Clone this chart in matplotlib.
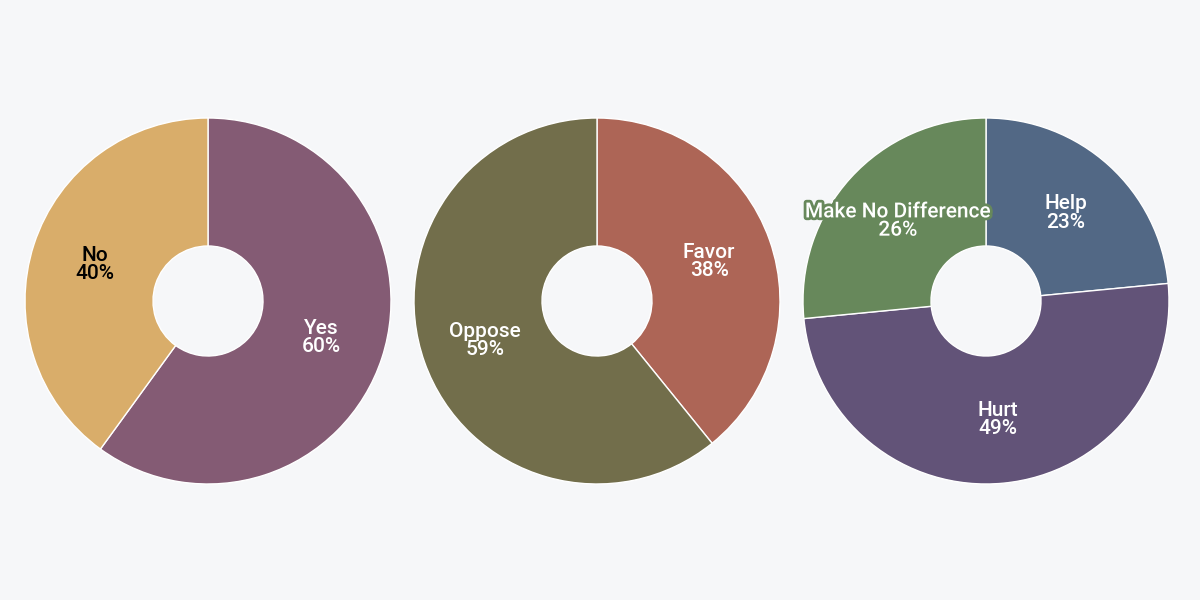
import numpy as np
import matplotlib.pyplot as plt
import matplotlib.patheffects as pe

plt.rcParams['font.family'] = ['Roboto', 'DejaVu Sans']

bg = '#f6f7f9'

# chart data
labels1 = ['Yes', 'No']
values1 = [60, 40]
colors1 = ['#845b74', '#d9ad6a']

labels2 = ['Favor', 'Oppose']
values2 = [38, 59]
colors2 = ['#ad6556', '#726e4b']

labels3 = ['Help', 'Hurt', 'Make No Difference']
values3 = [23, 49, 26]
colors3 = ['#526885', '#625378', '#67885b']

charts = [
    (labels1, values1, colors1, 208, ['white', 'black'], [None, None]),
    (labels2, values2, colors2, 597, ['white', 'white'], [None, None]),
    (labels3, values3, colors3, 986, ['white', 'white', 'white'], [None, None, '#67885b']),
]

fig = plt.figure(figsize=(12, 6), dpi=100, facecolor=bg)
R = 183
for labels, values, colors, cx, tcols, strokes in charts:
    ax = fig.add_axes([(cx - R) / 1200, (299 - R) / 600, 2 * R / 1200, 2 * R / 600])
    ax.set_facecolor(bg)
    wedges, _ = ax.pie(values, colors=colors, startangle=90, counterclock=False,
                       wedgeprops=dict(width=1 - 55 / R, edgecolor='white', linewidth=1))
    for w, lab, v, tc, sc in zip(wedges, labels, values, tcols, strokes):
        mid = np.deg2rad((w.theta1 + w.theta2) / 2)
        r = 0.65
        t = ax.text(r * np.cos(mid), r * np.sin(mid), f'{lab}\n{v}%', ha='center', va='center',
                    color=tc, fontsize=15, fontweight='medium', linespacing=0.95)
        if sc:
            t.set_path_effects([pe.withStroke(linewidth=4, foreground=sc)])
    ax.set_xlim(-1, 1)
    ax.set_ylim(-1, 1)

fig.savefig('out.png', dpi=100, facecolor=bg)
